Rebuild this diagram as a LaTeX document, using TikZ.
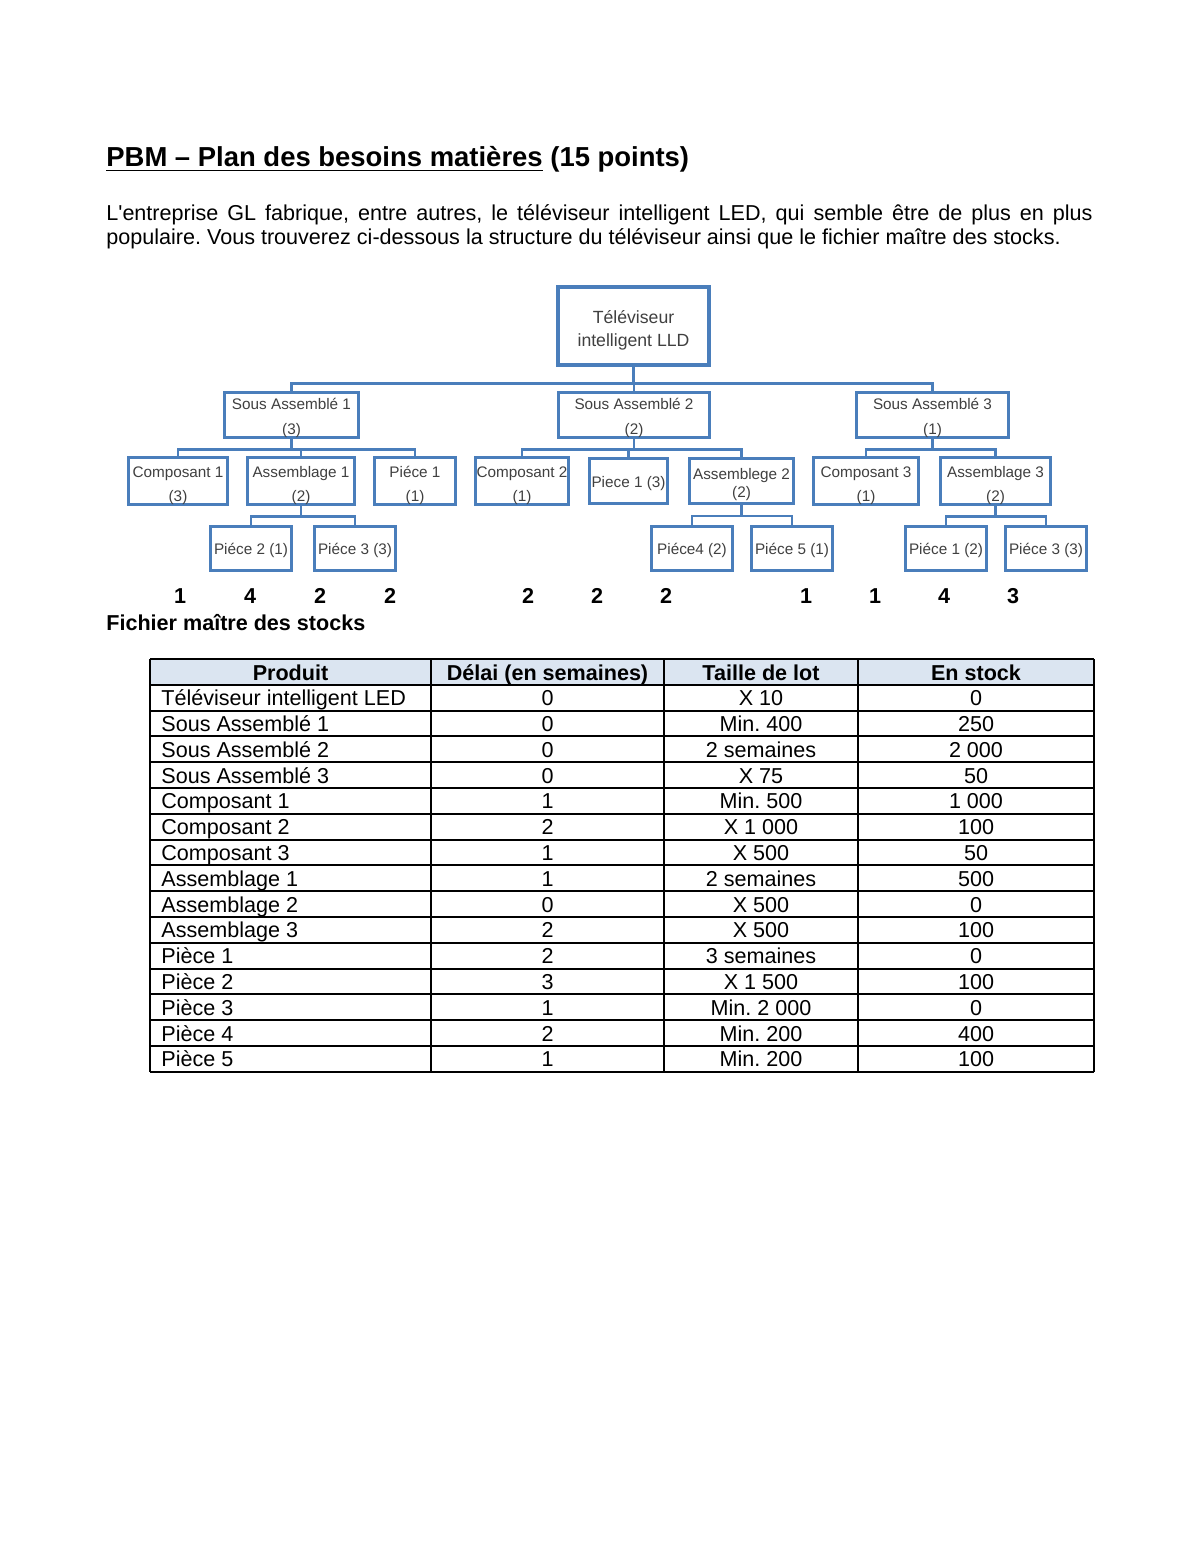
\documentclass[tikz,border=0pt]{standalone}
\usepackage{fontspec}
\setmainfont{Liberation Sans}
\definecolor{boxblue}{RGB}{74,126,187}
\definecolor{hdrblue}{RGB}{219,229,241}
\definecolor{boxtxt}{RGB}{64,64,64}
\newcommand{\tpad}[1]{\rule{0pt}{#1pt}}
\frenchspacing
\begin{document}
\begin{tikzpicture}[x=0.51pt,y=-0.51pt,
  tbox/.style={draw=boxblue, line width=1.5pt, fill=white, inner sep=0pt, align=center, text=boxtxt, minimum height=45*0.51pt},
  lvfour/.style={tbox, minimum height=44*0.51pt, minimum width=81*0.51pt, font=\fontsize{7.8}{9.5}\selectfont},
  conn/.style={draw=boxblue, line width=1.5pt},
  numlbl/.style={anchor=base, inner sep=0pt, font=\fontsize{11}{13}\bfseries},
  cell/.style={anchor=base, inner sep=0pt, font=\fontsize{11}{13}\selectfont},
  hcell/.style={anchor=base, inner sep=0pt, font=\fontsize{11}{13}\bfseries},
  grid/.style={draw=black, line width=1pt}]
\useasboundingbox[fill=white] (0,0) rectangle (1200,1553);

% Title and intro
\node[anchor=base west, inner sep=0pt, font=\fontsize{14}{16}\bfseries] (title) at (106,167)
  {\underline{PBM – Plan des besoins matières} (15 points)};
\node[anchor=base west, inner sep=0pt, font=\fontsize{11}{12.2}\selectfont] (introA) at (106,221)
  {\makebox[503pt][s]{L\textquotesingle entreprise GL fabrique, entre autres, le téléviseur intelligent LED, qui semble être de plus en plus}};
\node[anchor=base west, inner sep=0pt, font=\fontsize{11}{12.2}\selectfont] (introB) at (106,245)
  {populaire. Vous trouverez ci-dessous la structure du téléviseur ainsi que le fichier maître des stocks.};

% Tree
\node[tbox, line width=2.2pt, minimum width=151*0.51pt, minimum height=78*0.51pt, font=\fontsize{9}{11.7}\selectfont] (top) at (633.5,326) {\tpad{10.7}Téléviseur\\intelligent LLD};

\node[tbox, minimum width=134*0.51pt, font=\fontsize{7.8}{12.7}\selectfont] (sa1) at (291.5,415) {\tpad{9}Sous Assemblé 1\\(3)};
\node[tbox, minimum width=151*0.51pt, font=\fontsize{7.8}{12.7}\selectfont] (sa2) at (634,415) {\tpad{9}Sous Assemblé 2\\(2)};
\node[tbox, minimum width=152*0.51pt, font=\fontsize{7.8}{12.7}\selectfont] (sa3) at (932.5,415) {\tpad{9}Sous Assemblé 3\\(1)};

\node[tbox, minimum width=99*0.51pt, font=\fontsize{7.8}{12.2}\selectfont] (c1) at (178,481) {\tpad{10}Composant 1\\(3)};
\node[tbox, minimum width=107*0.51pt, font=\fontsize{7.8}{12.2}\selectfont] (a1) at (301,481) {\tpad{10}Assemblage 1\\(2)};
\node[tbox, minimum width=81*0.51pt, font=\fontsize{7.8}{12.2}\selectfont] (p1a) at (415,481) {\tpad{10}Piéce 1\\(1)};
\node[tbox, minimum width=93*0.51pt, font=\fontsize{7.8}{12.2}\selectfont] (c2) at (522,481) {\tpad{10}Composant 2\\(1)};
\node[tbox, minimum width=78*0.51pt, font=\fontsize{7.8}{12.2}\selectfont] (p1b) at (628.5,481) {\tpad{8}Piece 1 (3)};
\node[tbox, minimum width=104*0.51pt, font=\fontsize{7.8}{9.2}\selectfont] (a2) at (741.5,481) {\tpad{9}Assemblege 2\\(2)};
\node[tbox, minimum width=105*0.51pt, font=\fontsize{7.8}{12.2}\selectfont] (c3) at (866,481) {\tpad{10}Composant 3\\(1)};
\node[tbox, minimum width=110*0.51pt, font=\fontsize{7.8}{12.2}\selectfont] (a3) at (995.5,481) {\tpad{10}Assemblage 3\\(2)};

\node[lvfour] (p2) at (251,548.5) {\tpad{8}Piéce 2 (1)};
\node[lvfour] (p3a) at (355,548.5) {\tpad{8}Piéce 3 (3)};
\node[lvfour] (p4) at (692,548.5) {\tpad{8}Piéce4 (2)};
\node[lvfour] (p5) at (792,548.5) {\tpad{8}Piéce 5 (1)};
\node[lvfour] (p1c) at (946,548.5) {\tpad{8}Piéce 1 (2)};
\node[lvfour] (p3b) at (1046,548.5) {\tpad{8}Piéce 3 (3)};

% Connectors
\foreach \c in {sa1,sa2,sa3} \draw[conn] (top.south) -- ++(0,16) -| (\c.north);
\foreach \c in {c1,a1,p1a} \draw[conn] (sa1.south) -- ++(0,10) -| (\c.north);
\foreach \c in {c2,p1b,a2} \draw[conn] (sa2.south) -- ++(0,10) -| (\c.north);
\foreach \c in {c3,a3} \draw[conn] (sa3.south) -- ++(0,10) -| (\c.north);
\foreach \c in {p2,p3a} \draw[conn] (a1.south) -- ++(0,11) -| (\c.north);
\foreach \c in {p4,p5} \draw[conn] (a2.south) -- ++(0,11) -| (\c.north);
\foreach \c in {p1c,p3b} \draw[conn] (a3.south) -- ++(0,11) -| (\c.north);

% Number row
\foreach \k/\x/\v in {1/180/1,2/250/4,3/320/2,4/390/2,5/528/2,6/597/2,7/666/2,8/806/1,9/875/1,10/944/4,11/1013/3}
  \node[numlbl] (n\k) at (\x,603) {\v};

\node[anchor=base west, inner sep=0pt, font=\fontsize{11}{13}\bfseries] (fichier) at (106,630) {Fichier maître des stocks};

% Table
\fill[hdrblue] (150,659) rectangle (1094,684.8);
\node[hcell] (hp) at (290.5,680) {Produit};
\node[hcell] (hd) at (547.5,680) {Délai (en semaines)};
\node[hcell] (ht) at (761,680) {Taille de lot};
\node[hcell] (hs) at (976,680) {En stock};
\foreach \i/\p/\d/\t/\s in {
  1/Téléviseur intelligent LED/0/X 10/0,
  2/Sous Assemblé 1/0/Min. 400/250,
  3/Sous Assemblé 2/0/2 semaines/2 000,
  4/Sous Assemblé 3/0/X 75/50,
  5/Composant 1/1/Min. 500/1 000,
  6/Composant 2/2/X 1 000/100,
  7/Composant 3/1/X 500/50,
  8/Assemblage 1/1/2 semaines/500,
  9/Assemblage 2/0/X 500/0,
  10/Assemblage 3/2/X 500/100,
  11/Pièce 1/2/3 semaines/0,
  12/Pièce 2/3/X 1 500/100,
  13/Pièce 3/1/Min. 2 000/0,
  14/Pièce 4/2/Min. 200/400,
  15/Pièce 5/1/Min. 200/100}{
  \pgfmathsetmacro\yc{659+25.8*(\i+0.5)+8}
  \node[cell, anchor=base west] (p\i) at (161,\yc) {\p};
  \node[cell] (d\i) at (547.5,\yc) {\d};
  \node[cell] (t\i) at (761,\yc) {\t};
  \node[cell] (s\i) at (976,\yc) {\s};
}
\foreach \k in {0,...,16} \draw[grid] (150,659+25.8*\k) -- (1094,659+25.8*\k);
\foreach \x in {150,431,664,858,1094} \draw[grid] (\x,659) -- (\x,1071.8);
\end{tikzpicture}
\end{document}
